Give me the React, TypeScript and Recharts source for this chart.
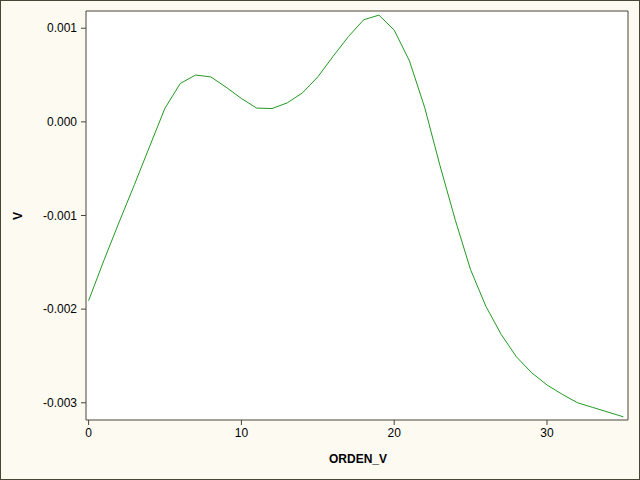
import React from "react"
import { LineChart, Line, XAxis, YAxis, ReferenceArea } from "recharts"

const ORDEN = [
  0, 1, 2, 3, 4, 5, 6, 7, 8, 9, 10, 11, 12, 13, 14, 15, 16, 17,
  18, 19, 20, 21, 22, 23, 24, 25, 26, 27, 28, 29, 30, 31, 32, 33, 34, 35,
]
const V_VALUES = [
  -0.00191, -0.00148, -0.00107, -0.00067, -0.00026, 0.000147, 0.00041, 0.0005,
  0.00048, 0.00037, 0.00025, 0.000147, 0.000142, 0.000203, 0.00031, 0.00048,
  0.0007, 0.00091, 0.00109, 0.00114, 0.00098, 0.00065, 0.00015, -0.00047,
  -0.00105, -0.00158, -0.00197, -0.00227, -0.00251, -0.00268, -0.00281,
  -0.00291, -0.003, -0.00305, -0.0031, -0.00315,
]
const X_TICKS = [0, 10, 20, 30]
const Y_TICKS = [-0.003, -0.002, -0.001, 0, 0.001]

const data = ORDEN.map((o, i) => ({ orden: o, v: V_VALUES[i] }))

const X_DOMAIN: [number, number] = [-0.17, 35.3]
const Y_DOMAIN: [number, number] = [-0.003184, 0.001184]

const FRAME = "#4a4436"
const FONT = "'Liberation Sans', Arial, sans-serif"
const tickStyle = { fontSize: 12, fill: "#000", fontFamily: FONT }

export default function App() {
  return (
    <div
      style={{
        position: "absolute",
        left: 0,
        top: 0,
        width: 640,
        height: 480,
        boxSizing: "border-box",
        border: `1px solid ${FRAME}`,
        background: "#fdfaf2",
        fontFamily: FONT,
      }}
    >
      <div style={{ position: "absolute", left: -1, top: -1 }}>
        <LineChart
          width={640}
          height={480}
          data={data}
          margin={{ top: 11, right: 12, bottom: 0, left: 0 }}
        >
          <XAxis
            dataKey="orden"
            type="number"
            domain={X_DOMAIN}
            ticks={X_TICKS}
            interval={0}
            allowDataOverflow
            height={60}
            tickSize={5}
            tickMargin={3}
            axisLine={false}
            tickLine={{ stroke: FRAME }}
            tick={tickStyle}
          />
          <YAxis
            dataKey="v"
            type="number"
            domain={Y_DOMAIN}
            ticks={Y_TICKS}
            interval={0}
            allowDataOverflow
            width={86}
            tickSize={5}
            tickMargin={4}
            axisLine={false}
            tickLine={{ stroke: FRAME }}
            tick={tickStyle}
            tickFormatter={(v: number) => v.toFixed(3)}
          />
          <ReferenceArea
            x1={X_DOMAIN[0]}
            x2={X_DOMAIN[1]}
            y1={Y_DOMAIN[0]}
            y2={Y_DOMAIN[1]}
            fill="#ffffff"
            fillOpacity={1}
            stroke={FRAME}
            strokeWidth={1}
          />
          <Line
            type="linear"
            dataKey="v"
            stroke="#229922"
            strokeWidth={1}
            dot={false}
            isAnimationActive={false}
          />
        </LineChart>
      </div>
      <div
        style={{
          position: "absolute",
          left: 257,
          width: 200,
          top: 451,
          textAlign: "center",
          fontSize: 12,
          fontWeight: "bold",
          color: "#000",
        }}
      >
        ORDEN_V
      </div>
      <div
        style={{
          position: "absolute",
          left: 17,
          top: 215,
          transform: "translate(-50%, -50%) rotate(-90deg)",
          fontSize: 12,
          fontWeight: "bold",
          color: "#000",
        }}
      >
        V
      </div>
    </div>
  )
}
